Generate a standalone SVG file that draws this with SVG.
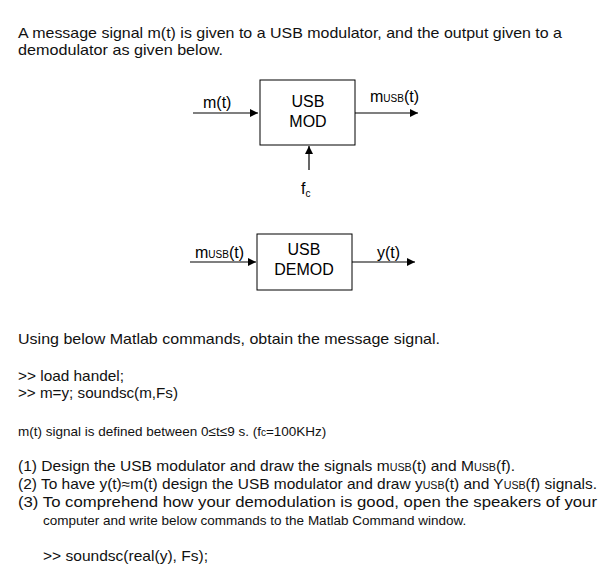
<svg xmlns="http://www.w3.org/2000/svg" width="605" height="566" viewBox="0 0 605 566">
<defs>
<marker id="ah" viewBox="0 0 10 10" refX="10" refY="5" markerWidth="8" markerHeight="8" markerUnits="userSpaceOnUse" orient="auto"><path d="M0,0 L10,5 L0,10 z" fill="#000"/></marker>
<style>
.t{font-family:"Liberation Sans",Arial,sans-serif;font-size:14.5px;fill:#111}
.d{font-family:"Liberation Sans",Arial,sans-serif;font-size:16px;fill:#000}
.s{font-size:10px}
.box{fill:#fff;stroke:#000;stroke-width:1}
.c{stroke:#000;stroke-width:1.2;fill:none;marker-end:url(#ah)}
</style>
</defs>
<rect width="605" height="566" fill="#fff"/>
<g id="text">
<text class="t" x="18" y="38" textLength="544" lengthAdjust="spacingAndGlyphs">A message signal m(t) is given to a USB modulator, and the output given to a</text>
<text class="t" x="18" y="55" textLength="205" lengthAdjust="spacingAndGlyphs">demodulator as given below.</text>
<text class="t" x="18" y="344" textLength="422" lengthAdjust="spacingAndGlyphs">Using below Matlab commands, obtain the message signal.</text>
<text class="t" x="18" y="381" textLength="106" lengthAdjust="spacingAndGlyphs">&gt;&gt; load handel;</text>
<text class="t" x="18" y="398" textLength="160" lengthAdjust="spacingAndGlyphs">&gt;&gt; m=y; soundsc(m,Fs)</text>
<text class="t" x="18" y="436" style="font-size:13.5px">m(t) signal is defined between 0≤t≤9 s. (f<tspan class="s">c</tspan>=100KHz)</text>
<text class="t" x="18" y="471" textLength="497" lengthAdjust="spacingAndGlyphs">(1) Design the USB modulator and draw the signals m<tspan class="s">USB</tspan>(t) and M<tspan class="s">USB</tspan>(f).</text>
<text class="t" x="18" y="489" textLength="579" lengthAdjust="spacingAndGlyphs">(2) To have y(t)≈m(t) design the USB modulator and draw y<tspan class="s">USB</tspan>(t) and Y<tspan class="s">USB</tspan>(f) signals.</text>
<text class="t" x="18" y="507" textLength="579" lengthAdjust="spacingAndGlyphs">(3) To comprehend how your demodulation is good, open the speakers of your</text>
<text class="t" x="43" y="525" style="font-size:13.5px">computer and write below commands to the Matlab Command window.</text>
<text class="t" x="43" y="561" textLength="165" lengthAdjust="spacingAndGlyphs">&gt;&gt; soundsc(real(y), Fs);</text>
</g>
<g id="connectors">
<line class="c" x1="193" y1="113" x2="258" y2="113"/>
<line class="c" x1="355" y1="113" x2="418" y2="113"/>
<line class="c" x1="309" y1="170" x2="309" y2="146"/>
<line class="c" x1="190" y1="262" x2="256" y2="262"/>
<line class="c" x1="352" y1="262" x2="415" y2="262"/>
</g>
<g id="mod">
<rect class="box" x="260" y="80" width="95" height="65"/>
<text class="d" x="308" y="107" text-anchor="middle">USB</text>
<text class="d" x="308" y="127" text-anchor="middle">MOD</text>
</g>
<g id="demod">
<rect class="box" x="257" y="234" width="95" height="56"/>
<text class="d" x="304" y="255" text-anchor="middle">USB</text>
<text class="d" x="304" y="275" text-anchor="middle">DEMOD</text>
</g>
<g id="labels">
<text class="d" x="203" y="108">m(t)</text>
<text class="d" x="370" y="102">m<tspan class="s">USB</tspan>(t)</text>
<text class="d" x="301" y="194">f<tspan class="s" dy="3">c</tspan></text>
<text class="d" x="195" y="258">m<tspan class="s">USB</tspan>(t)</text>
<text class="d" x="377" y="258">y(t)</text>
</g>
</svg>
